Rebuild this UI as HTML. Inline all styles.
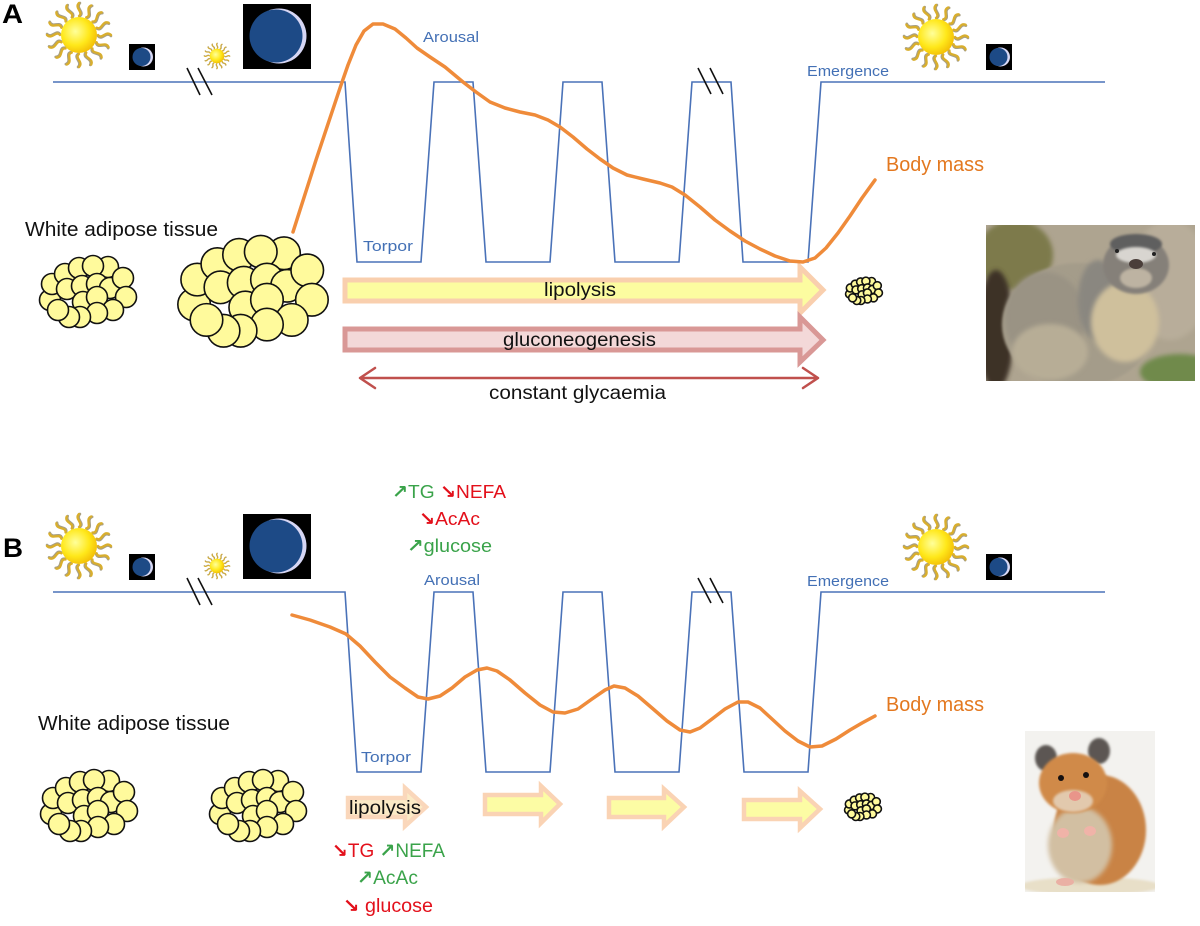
<!DOCTYPE html>
<html><head><meta charset="utf-8"><style>
html,body{margin:0;padding:0;background:#fff;}
svg{display:block;}
text{font-family:"Liberation Sans","DejaVu Sans",sans-serif;}
</style></head><body>
<svg width="1200" height="926" viewBox="0 0 1200 926" xmlns="http://www.w3.org/2000/svg">
<defs>
<radialGradient id="sg" cx="0.4" cy="0.4" r="0.7">
<stop offset="0" stop-color="#FFFF9A"/><stop offset="0.55" stop-color="#FFE81A"/><stop offset="1" stop-color="#F0B400"/>
</radialGradient>
<g id="ray">
<path d="M1,-19 C6,-23 -4,-27 1,-32" fill="none" stroke="#5e5020" stroke-width="2.6" stroke-linecap="round" opacity="0.55"/>
<path d="M0,-19 C5,-23 -5,-27 0,-32" fill="none" stroke="#D8AE2E" stroke-width="2.4" stroke-linecap="round"/>
</g>
<g id="sun">
<use href="#ray" transform="rotate(0)"/><use href="#ray" transform="rotate(22.5)"/><use href="#ray" transform="rotate(45)"/><use href="#ray" transform="rotate(67.5)"/>
<use href="#ray" transform="rotate(90)"/><use href="#ray" transform="rotate(112.5)"/><use href="#ray" transform="rotate(135)"/><use href="#ray" transform="rotate(157.5)"/>
<use href="#ray" transform="rotate(180)"/><use href="#ray" transform="rotate(202.5)"/><use href="#ray" transform="rotate(225)"/><use href="#ray" transform="rotate(247.5)"/>
<use href="#ray" transform="rotate(270)"/><use href="#ray" transform="rotate(292.5)"/><use href="#ray" transform="rotate(315)"/><use href="#ray" transform="rotate(337.5)"/>
<circle r="18" fill="url(#sg)"/>
</g>
<g id="fat" fill="#FFFA9C" stroke="#111">
<circle cx="-38" cy="8" r="10.5" vector-effect="non-scaling-stroke" stroke-width="1.6"/>
<circle cx="-36" cy="-8" r="10.5" vector-effect="non-scaling-stroke" stroke-width="1.6"/>
<circle cx="-23" cy="-18" r="10.5" vector-effect="non-scaling-stroke" stroke-width="1.6"/>
<circle cx="-9" cy="-24" r="10.5" vector-effect="non-scaling-stroke" stroke-width="1.6"/>
<circle cx="20" cy="-25" r="10.5" vector-effect="non-scaling-stroke" stroke-width="1.6"/>
<circle cx="5" cy="-26" r="10.5" vector-effect="non-scaling-stroke" stroke-width="1.6"/>
<circle cx="-21" cy="-3" r="10.5" vector-effect="non-scaling-stroke" stroke-width="1.6"/>
<circle cx="-6" cy="-6" r="10.5" vector-effect="non-scaling-stroke" stroke-width="1.6"/>
<circle cx="9" cy="-8" r="10.5" vector-effect="non-scaling-stroke" stroke-width="1.6"/>
<circle cx="22" cy="-4" r="10.5" vector-effect="non-scaling-stroke" stroke-width="1.6"/>
<circle cx="35" cy="-14" r="10.5" vector-effect="non-scaling-stroke" stroke-width="1.6"/>
<circle cx="-5" cy="10" r="10.5" vector-effect="non-scaling-stroke" stroke-width="1.6"/>
<circle cx="9" cy="5" r="10.5" vector-effect="non-scaling-stroke" stroke-width="1.6"/>
<circle cx="38" cy="5" r="10.5" vector-effect="non-scaling-stroke" stroke-width="1.6"/>
<circle cx="25" cy="18" r="10.5" vector-effect="non-scaling-stroke" stroke-width="1.6"/>
<circle cx="9" cy="21" r="10.5" vector-effect="non-scaling-stroke" stroke-width="1.6"/>
<circle cx="-8" cy="25" r="10.5" vector-effect="non-scaling-stroke" stroke-width="1.6"/>
<circle cx="-19" cy="25" r="10.5" vector-effect="non-scaling-stroke" stroke-width="1.6"/>
<circle cx="-30" cy="18" r="10.5" vector-effect="non-scaling-stroke" stroke-width="1.6"/>
</g>
<filter id="bl" x="-0.2" y="-0.2" width="1.4" height="1.4"><feGaussianBlur stdDeviation="2.5"/></filter>
<filter id="bl2" x="-0.2" y="-0.2" width="1.4" height="1.4"><feGaussianBlur stdDeviation="1.2"/></filter>
<clipPath id="mc"><rect x="986" y="225" width="209" height="156"/></clipPath>
<clipPath id="hc"><rect x="1025" y="731" width="130" height="161"/></clipPath>
</defs>

<!-- ================= PANEL A ================= -->
<text x="2" y="23" font-size="27" font-weight="bold" textLength="21" lengthAdjust="spacingAndGlyphs">A</text>

<use href="#sun" transform="translate(79,35)"/>
<rect x="129" y="44" width="26" height="26" fill="#000"/>
<circle cx="143.5" cy="57" r="9.5" fill="#d8d8f4"/>
<circle cx="141.5" cy="57" r="9" fill="#1d4a86"/>
<use href="#sun" transform="translate(217,56) scale(0.4)"/>
<rect x="243" y="4" width="68" height="65" fill="#000"/>
<circle cx="279" cy="36" r="27.5" fill="#d6d6f4"/>
<circle cx="276" cy="36" r="26.5" fill="#1d4a86"/>

<use href="#sun" transform="translate(936,37)"/>
<rect x="986" y="44" width="26" height="26" fill="#000"/>
<circle cx="1000.5" cy="57" r="9.5" fill="#d8d8f4"/>
<circle cx="998.5" cy="57" r="9" fill="#1d4a86"/>

<path d="M53,82 L345,82 L357,262 L421,262 L434,82 L473,82 L486,262 L550,262 L563,82 L602,82 L615,262 L679,262 L692,82 L731,82 L743,262 L808,262 L821,82 L1105,82" fill="none" stroke="#4a72b8" stroke-width="1.6"/>
<path d="M187,68 L200,95 M198,68 L212,95" stroke="#111" stroke-width="1.6"/>
<path d="M698,68 L711,94 M710,68 L723,94" stroke="#111" stroke-width="1.6"/>

<text x="423" y="42" font-size="15" fill="#4370b5" textLength="56" lengthAdjust="spacingAndGlyphs">Arousal</text>
<text x="363" y="251" font-size="15" fill="#4370b5" textLength="50" lengthAdjust="spacingAndGlyphs">Torpor</text>
<text x="807" y="76" font-size="15" fill="#4370b5" textLength="82" lengthAdjust="spacingAndGlyphs">Emergence</text>

<text x="25" y="236" font-size="20" fill="#111" textLength="193" lengthAdjust="spacingAndGlyphs">White adipose tissue</text>
<use href="#fat" transform="translate(88,292)"/>
<use href="#fat" transform="translate(253,292) scale(1.55)"/>
<use href="#fat" transform="translate(864,291) scale(0.38)"/>

<!-- arrows A -->
<path d="M345,280 L800,280 L800,267 L823,290 L800,313 L800,301 L345,301 Z" fill="#FCFCA0" stroke="#F9CFAE" stroke-width="5" stroke-linejoin="miter"/>
<text x="544" y="296" font-size="19" fill="#111" textLength="72" lengthAdjust="spacingAndGlyphs">lipolysis</text>
<path d="M345,329 L800,329 L800,317 L823,340 L800,362 L800,350 L345,350 Z" fill="#F3D8D8" stroke="#D99896" stroke-width="5" stroke-linejoin="miter"/>
<text x="503" y="346" font-size="19" fill="#111" textLength="153" lengthAdjust="spacingAndGlyphs">gluconeogenesis</text>
<path d="M360,378 L818,378 M375,368 L360,378 L375,388 M803,368 L818,378 L803,388" fill="none" stroke="#C0504D" stroke-width="2.5" stroke-linecap="round" stroke-linejoin="round"/>
<text x="489" y="399" font-size="19" fill="#111" textLength="177" lengthAdjust="spacingAndGlyphs">constant glycaemia</text>

<!-- body mass A -->
<polyline points="293,232 300,210 308,185 316,160 324,136 332,112 340,88 348,65 356,45 364,31 373,24 383,24 395,29 406,38 417,48 430,57 445,67 463,82 476,92 490,102 505,108 520,112 535,115 548,120 560,127 573,137 587,149 600,159 613,168 627,175 643,179 660,183 672,187 685,195 700,207 715,220 730,231 745,241 760,249 775,256 790,261 803,262 815,258 826,248 838,233 850,216 862,198 875,180" fill="none" stroke="#EF8B3A" stroke-width="3.5" stroke-linejoin="round" stroke-linecap="round"/>
<text x="886" y="171" font-size="20" fill="#E3781F" textLength="98" lengthAdjust="spacingAndGlyphs">Body mass</text>

<!-- marmot photo -->
<g clip-path="url(#mc)">
<rect x="986" y="225" width="209" height="156" fill="#aea490"/>
<ellipse cx="1170" cy="280" rx="40" ry="60" fill="#b8ad9a" filter="url(#bl)"/>
<ellipse cx="1015" cy="255" rx="38" ry="35" fill="#7d7a4c" filter="url(#bl)"/>
<ellipse cx="996" cy="330" rx="18" ry="60" fill="#3c3328" filter="url(#bl)"/>
<ellipse cx="1180" cy="372" rx="40" ry="18" fill="#6f8a4c" filter="url(#bl)"/>
<ellipse cx="1078" cy="325" rx="76" ry="62" fill="#a49c8a" filter="url(#bl2)"/>
<ellipse cx="1045" cy="318" rx="40" ry="46" fill="#9a9384" filter="url(#bl)"/>
<ellipse cx="1098" cy="300" rx="20" ry="40" fill="#8a8780" filter="url(#bl)"/>
<ellipse cx="1125" cy="322" rx="34" ry="40" fill="#cfc09c" filter="url(#bl)"/>
<ellipse cx="1050" cy="352" rx="38" ry="28" fill="#b7ad96" filter="url(#bl)"/>
<ellipse cx="1136" cy="265" rx="33" ry="29" fill="#858079" filter="url(#bl2)"/>
<ellipse cx="1136" cy="244" rx="26" ry="10" fill="#5f5e5e" filter="url(#bl2)"/>
<ellipse cx="1136" cy="255" rx="20" ry="8" fill="#d8d5d0" filter="url(#bl2)"/>
<ellipse cx="1136" cy="278" rx="16" ry="10" fill="#bdb3a2" filter="url(#bl2)"/>
<ellipse cx="1136" cy="264" rx="7" ry="5" fill="#4a3e3a"/>
<circle cx="1117" cy="251" r="2" fill="#222"/>
<circle cx="1154" cy="254" r="2" fill="#222"/>
</g>

<!-- ================= PANEL B ================= -->
<text x="3" y="557" font-size="27" font-weight="bold" textLength="20" lengthAdjust="spacingAndGlyphs">B</text>

<use href="#sun" transform="translate(79,546)"/>
<rect x="129" y="554" width="26" height="26" fill="#000"/>
<circle cx="143.5" cy="567" r="9.5" fill="#d8d8f4"/>
<circle cx="141.5" cy="567" r="9" fill="#1d4a86"/>
<use href="#sun" transform="translate(217,566) scale(0.4)"/>
<rect x="243" y="514" width="68" height="65" fill="#000"/>
<circle cx="279" cy="546" r="27.5" fill="#d6d6f4"/>
<circle cx="276" cy="546" r="26.5" fill="#1d4a86"/>

<use href="#sun" transform="translate(936,547)"/>
<rect x="986" y="554" width="26" height="26" fill="#000"/>
<circle cx="1000.5" cy="567" r="9.5" fill="#d8d8f4"/>
<circle cx="998.5" cy="567" r="9" fill="#1d4a86"/>

<path d="M53,592 L345,592 L357,772 L421,772 L434,592 L473,592 L486,772 L550,772 L563,592 L602,592 L615,772 L679,772 L692,592 L731,592 L744,772 L808,772 L821,592 L1105,592" fill="none" stroke="#4a72b8" stroke-width="1.6"/>
<path d="M187,578 L200,605 M198,578 L212,605" stroke="#111" stroke-width="1.6"/>
<path d="M698,578 L711,603 M710,578 L723,603" stroke="#111" stroke-width="1.6"/>

<text x="424" y="585" font-size="15" fill="#4370b5" textLength="56" lengthAdjust="spacingAndGlyphs">Arousal</text>
<text x="361" y="762" font-size="15" fill="#4370b5" textLength="50" lengthAdjust="spacingAndGlyphs">Torpor</text>
<text x="807" y="586" font-size="15" fill="#4370b5" textLength="82" lengthAdjust="spacingAndGlyphs">Emergence</text>

<text x="392" y="498" font-size="18.5" textLength="114" lengthAdjust="spacingAndGlyphs"><tspan fill="#3AA34A" font-weight="bold">↗</tspan><tspan fill="#3AA34A">TG </tspan><tspan fill="#E3101B" font-weight="bold">↘</tspan><tspan fill="#E3101B">NEFA</tspan></text>
<text x="419" y="525" font-size="18.5" fill="#E3101B" textLength="61" lengthAdjust="spacingAndGlyphs"><tspan font-weight="bold">↘</tspan>AcAc</text>
<text x="407" y="552" font-size="18.5" fill="#3AA34A" textLength="85" lengthAdjust="spacingAndGlyphs"><tspan font-weight="bold">↗</tspan>glucose</text>

<text x="38" y="730" font-size="20" fill="#111" textLength="192" lengthAdjust="spacingAndGlyphs">White adipose tissue</text>
<use href="#fat" transform="translate(89,806)"/>
<use href="#fat" transform="translate(258,806)"/>
<use href="#fat" transform="translate(863,807) scale(0.38)"/>

<!-- arrows B -->
<path d="M348,798 L405,798 L405,788 L426,807 L405,826 L405,817 L348,817 Z" fill="#FBE8C0" stroke="#FAD3B4" stroke-width="4.5" opacity="0.9"/>
<text x="349" y="814" font-size="19" fill="#111" textLength="72" lengthAdjust="spacingAndGlyphs">lipolysis</text>
<path d="M485,795 L541,795 L541,786 L560,804 L541,823 L541,814 L485,814 Z" fill="#FCFCA4" stroke="#FAD3B4" stroke-width="4.5"/>
<path d="M609,798 L664,798 L664,789 L684,807 L664,826 L664,817 L609,817 Z" fill="#FCFCA4" stroke="#FAD3B4" stroke-width="4.5"/>
<path d="M744,800 L800,800 L800,791 L820,809 L800,828 L800,819 L744,819 Z" fill="#FCFCA4" stroke="#FAD3B4" stroke-width="4.5"/>

<text x="332" y="857" font-size="19" textLength="113" lengthAdjust="spacingAndGlyphs"><tspan fill="#E3101B" font-weight="bold">↘</tspan><tspan fill="#E3101B">TG </tspan><tspan fill="#3AA34A" font-weight="bold">↗</tspan><tspan fill="#3AA34A">NEFA</tspan></text>
<text x="357" y="884" font-size="19" fill="#3AA34A" textLength="61" lengthAdjust="spacingAndGlyphs"><tspan font-weight="bold">↗</tspan>AcAc</text>
<text x="343" y="912" font-size="19" fill="#E3101B" textLength="90" lengthAdjust="spacingAndGlyphs"><tspan font-weight="bold">↘</tspan> glucose</text>

<!-- body mass B -->
<polyline points="292,615 310,620 330,627 346,634 360,646 375,662 390,677 405,688 418,697 428,699 440,696 452,688 465,677 477,670 487,668 497,671 510,680 525,693 540,705 553,712 565,713 578,709 592,699 605,690 614,686 625,688 638,696 652,708 667,721 680,730 690,732 700,728 712,719 725,709 738,702 748,702 760,708 772,719 785,731 798,741 810,747 822,746 836,739 850,730 862,723 875,716" fill="none" stroke="#EF8B3A" stroke-width="3.5" stroke-linejoin="round" stroke-linecap="round"/>
<text x="886" y="711" font-size="20" fill="#E3781F" textLength="98" lengthAdjust="spacingAndGlyphs">Body mass</text>

<!-- hamster photo -->
<g clip-path="url(#hc)">
<rect x="1025" y="731" width="130" height="161" fill="#f3f2ef"/>
<ellipse cx="1090" cy="886" rx="70" ry="9" fill="#e8dfc8" filter="url(#bl2)"/>
<ellipse cx="1100" cy="830" rx="46" ry="55" fill="#c98345" filter="url(#bl2)"/>
<ellipse cx="1080" cy="845" rx="32" ry="38" fill="#d2bfa2" filter="url(#bl)"/>
<ellipse cx="1046" cy="758" rx="11" ry="13" fill="#5c5652" filter="url(#bl2)"/>
<ellipse cx="1099" cy="751" rx="11" ry="13" fill="#5c5652" filter="url(#bl2)"/>
<ellipse cx="1073" cy="783" rx="34" ry="30" fill="#d08a48" filter="url(#bl2)"/>
<ellipse cx="1073" cy="801" rx="20" ry="11" fill="#e2c9ad" filter="url(#bl2)"/>
<ellipse cx="1075" cy="796" rx="6" ry="5" fill="#e9958a"/>
<circle cx="1061" cy="778" r="3" fill="#151010"/>
<circle cx="1086" cy="775" r="3" fill="#151010"/>
<ellipse cx="1063" cy="833" rx="6" ry="5" fill="#f0b3a8"/>
<ellipse cx="1090" cy="831" rx="6" ry="5" fill="#f0b3a8"/>
<ellipse cx="1065" cy="882" rx="9" ry="4" fill="#eab0a4"/>
</g>
</svg>
</body></html>
